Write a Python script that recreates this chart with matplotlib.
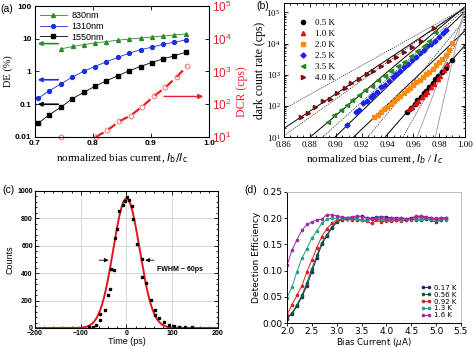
import matplotlib
matplotlib.use("Agg")
import numpy as np
import matplotlib.pyplot as plt
from matplotlib.ticker import FixedLocator, NullLocator, FuncFormatter

SERIF = "Liberation Serif"
SANS = "Liberation Sans"

# ---------------- (a) detection efficiency and dark count rate ----------------
x_830 = [0.745, 0.765, 0.784, 0.804, 0.823, 0.843, 0.862, 0.882, 0.901, 0.921, 0.940, 0.960]
de_830 = [4.9, 5.8, 6.6, 7.5, 8.2, 9.0, 9.8, 10.5, 11.3, 12.1, 13.0, 14.0]
x_1310 = [0.705, 0.725, 0.745, 0.764, 0.784, 0.803, 0.823, 0.843, 0.862, 0.882, 0.901, 0.921, 0.940, 0.960]
de_1310 = [0.15, 0.26, 0.42, 0.67, 1.02, 1.42, 1.97, 2.7, 3.6, 4.6, 5.5, 6.8, 7.8, 9.2]
x_1550 = x_1310
de_1550 = [0.026, 0.048, 0.082, 0.147, 0.23, 0.35, 0.52, 0.74, 1.05, 1.42, 1.88, 2.43, 3.0, 3.9]
x_dcr = [0.745, 0.805, 0.825, 0.845, 0.865, 0.885, 0.905, 0.925, 0.945, 0.962]
dcr = [10, 10, 16, 30, 45, 85, 175, 330, 700, 1450]

# ---------------- (b) dark count rate vs temperature ----------------
x_05 = [0.955, 0.958, 0.961, 0.963, 0.966, 0.968, 0.970, 0.972, 0.975, 0.977, 0.979, 0.982, 0.985, 0.990]
dcr_05 = [63, 83, 112, 151, 191, 251, 302, 398, 525, 708, 891, 1200, 1660, 2950]
x_10 = [0.957, 0.959, 0.962, 0.964, 0.967, 0.969, 0.971, 0.974, 0.976, 0.979, 0.981, 0.984, 0.986]
dcr_10 = [79, 95, 126, 141, 200, 240, 282, 417, 501, 708, 912, 1410, 2240]
x_20 = [0.930, 0.9325, 0.935, 0.9375, 0.940, 0.9425, 0.945, 0.9475, 0.950, 0.9525, 0.955, 0.9575,
        0.960, 0.9625, 0.965, 0.9675, 0.970, 0.9725, 0.975, 0.9775, 0.980, 0.9825, 0.985, 0.9875, 0.990]
dcr_20 = [44, 52, 63, 79, 95, 117, 145, 174, 214, 263, 316, 380, 457, 575, 692, 832, 1050, 1260,
          1580, 2000, 2510, 3310, 4370, 6310, 10200]
x_25 = [0.909, 0.916, 0.918, 0.921, 0.924, 0.927, 0.929, 0.932, 0.935, 0.938, 0.941, 0.944, 0.947,
        0.950, 0.953, 0.956, 0.959, 0.962, 0.965, 0.968, 0.971, 0.974, 0.977, 0.980, 0.983, 0.985]
dcr_25 = [24, 63, 76, 126, 145, 191, 229, 288, 398, 479, 631, 832, 1070, 1350, 1740, 2290, 2880,
          3800, 4900, 6310, 8320, 10000, 12600, 16600, 21900, 26900]
x_35 = [0.894, 0.899, 0.904, 0.909, 0.913, 0.918, 0.923, 0.928, 0.933, 0.938, 0.943, 0.948, 0.953,
        0.958, 0.963, 0.968, 0.972, 0.9765]
dcr_35 = [30, 50, 76, 105, 158, 224, 316, 427, 661, 891, 1320, 1910, 2630, 3980, 5620, 8320,
          12600, 23400]
x_40 = [0.873, 0.879, 0.884, 0.890, 0.896, 0.901, 0.907, 0.912, 0.918, 0.924, 0.929, 0.935, 0.941,
        0.947, 0.953, 0.959, 0.966, 0.976]
dcr_40 = [44, 60, 89, 148, 166, 251, 380, 525, 759, 1070, 1320, 1910, 2750, 3800, 5370, 7590,
          12000, 30900]
temps_b = ["0.5 K", "1.0 K", "2.0 K", "2.5 K", "3.5 K", "4.0 K"]

# straight-line fits on the log scale (two end points each)
fit_lines = [((0.860, 19), (1.0, 1.4e5)), ((0.8803, 10), (1.0, 1.55e5)),
             ((0.8995, 10), (1.0, 1.07e5)), ((0.9138, 10), (1.0, 2.6e4)),
             ((0.9382, 10), (1.0, 8.9e3))]
guide_lines = [((0.860, 80), (1.0, 1.4e5)), ((0.860, 11), (1.0, 1.5e5)),
               ((0.890, 10), (1.0, 1.3e5)), ((0.925, 10), (1.0, 6.0e4)),
               ((0.952, 10), (1.0, 3.2e4))]
gray_lines = [((0.963, 10), (1.0, 1.1e5)), ((0.977, 10), (1.0, 1.6e5))]

# ---------------- (c) timing jitter histogram ----------------
t_ps = [-82, -74, -66, -58, -57, -47, -40, -36, -34, -27, -25, -17, -20, -8, -3, 2, 6, 12, 14, 23,
        33, 35, 43, 53, 63, 63, 72, 83, 93, 104, 115, 128, 143]
counts = [5, 10, 20, 55, 105, 134, 240, 283, 427, 422, 654, 856, 720, 900, 930, 955, 935, 890, 795,
          610, 507, 373, 330, 202, 128, 98, 73, 45, 24, 18, 10, 7, 5]
fit_peak, fit_center, fit_fwhm = 945.0, 0.0, 68.0

# ---------------- (d) detection efficiency vs bias current ----------------
bias_ua = [2.0, 2.1, 2.2, 2.3, 2.4, 2.5, 2.6, 2.7, 2.8, 2.9, 3.0, 3.1, 3.2, 3.3, 3.4, 3.5, 3.6,
           3.7, 3.8, 3.9, 4.0, 4.1, 4.2, 4.3, 4.4, 4.5, 4.6, 4.7, 4.8, 4.9, 5.0, 5.1, 5.2]
de_017 = [0.008, 0.018, 0.032, 0.050, 0.071, 0.098, 0.124, 0.150, 0.166, 0.181, 0.192, 0.198, 0.200,
          0.201, 0.203, 0.204, 0.201, 0.200, 0.202, 0.203, 0.202, 0.201, 0.200, 0.201, 0.199, 0.201,
          0.203, 0.202, 0.200, 0.201, 0.199, 0.201, 0.200]
de_056 = [0.010, 0.019, 0.035, 0.053, 0.077, 0.104, 0.129, 0.153, 0.168, 0.183, 0.194, 0.197, 0.198,
          0.199, 0.197, 0.196, 0.196, 0.198, 0.199, 0.197, 0.196, 0.197, 0.196, 0.197, 0.196, 0.198,
          0.197, 0.196, 0.198, 0.196, 0.193, 0.196]
de_092 = [0.016, 0.035, 0.053, 0.071, 0.098, 0.120, 0.144, 0.165, 0.180, 0.190, 0.196, 0.198, 0.199,
          0.197, 0.199, 0.196, 0.194, 0.190, 0.196, 0.193, 0.195, 0.194, 0.196, 0.195, 0.197, 0.199,
          0.204, 0.204, 0.202, 0.199, 0.200, 0.199, 0.200]
de_13 = [0.048, 0.069, 0.098, 0.124, 0.142, 0.162, 0.176, 0.190, 0.198, 0.200, 0.200, 0.201, 0.199,
         0.200, 0.198, 0.197, 0.196, 0.198, 0.200, 0.199, 0.197, 0.198, 0.199, 0.196, 0.198, 0.197,
         0.199, 0.198, 0.200, 0.199, 0.196, 0.198, 0.197]
de_16 = [0.110, 0.139, 0.159, 0.177, 0.188, 0.193, 0.197, 0.198, 0.207, 0.206, 0.205, 0.203, 0.201,
         0.203, 0.204, 0.203, 0.201, 0.199, 0.200, 0.202, 0.198, 0.201, 0.199, 0.200, 0.199, 0.198,
         0.202, 0.204, 0.203, 0.200, 0.199, 0.200, 0.200]
temps_d = ["0.17 K", "0.56 K", "0.92 K", "1.3 K", "1.6 K"]

fig = plt.figure(figsize=(4.74, 3.47), dpi=100)

# ===== (a) =====
ax = fig.add_axes([0.0738, 0.6052, 0.367, 0.3775])
ax.set_yscale("log")
ax.set_xlim(0.7, 1.0)
ax.set_ylim(0.01, 100)
ax.plot(x_830, de_830, color="#2a8a2a", marker="^", ms=2.8, lw=0.6, label="830nm")
ax.plot(x_1310, de_1310, color="#1c2fe0", marker="o", ms=2.8, lw=0.6, label="1310nm")
ax.plot(x_1550, de_1550, color="black", marker="s", ms=2.4, lw=0.6, label="1550nm")
for yv, c in [(7.1, "#2a8a2a"), (0.56, "#1c2fe0"), (0.1, "black")]:
    ax.annotate("", xy=(0.7, yv), xytext=(0.745, yv),
                arrowprops=dict(arrowstyle="-|>", color=c, lw=1.2, mutation_scale=6))
ax.set_xticks([0.7, 0.8, 0.9, 1.0])
ax.set_xticklabels(["0.7", "0.8", "0.9", "1.0"])
ax.set_yticks([0.01, 0.1, 1, 10, 100])
ax.set_yticklabels(["0.01", "0.1", "1", "10", "100"])
ax.yaxis.set_minor_locator(NullLocator())
ax.tick_params(direction="in", top=True, labelsize=6, length=3, width=0.6, pad=2.5)
for lab in ax.get_xticklabels() + ax.get_yticklabels():
    lab.set_fontfamily(SANS)
    lab.set_fontweight("bold")
ax.set_ylabel("DE (%)", family=SERIF, fontsize=7.5, labelpad=1)
ax.set_xlabel("normalized bias current, $I_\\mathrm{b}/I_\\mathrm{c}$", family=SERIF, fontsize=8, labelpad=3)
ax.legend(loc="upper left", frameon=False, prop={"family": SANS, "size": 6.5},
          handlelength=3.0, borderaxespad=0.15, labelspacing=0.2, handletextpad=0.5,
          bbox_to_anchor=(0.0, 1.0))
for s in ax.spines.values():
    s.set_linewidth(0.7)

axr = ax.twinx()
axr.set_yscale("log")
axr.set_ylim(10, 1e5)
axr.plot(x_dcr[1:], dcr[1:], color="#e8202a", ls=(0, (4, 2.5)), lw=1.6)
axr.plot(x_dcr, dcr, ls="none", marker="o", ms=3.5, mfc="none", mec="#f06060", mew=0.6, clip_on=False)
axr.annotate("", xy=(0.995, 173), xytext=(0.918, 173),
             arrowprops=dict(arrowstyle="-|>", color="#e8202a", lw=1.0, mutation_scale=7))
axr.yaxis.set_minor_locator(NullLocator())
axr.tick_params(direction="in", labelsize=8.5, labelcolor="#e8202a", length=3, width=0.6, pad=2)
for lab in axr.get_yticklabels():
    lab.set_fontfamily(SANS)
fig.text(0.511, 0.736, "DCR (cps)", rotation=90, color="#e8202a", family=SERIF, fontsize=8.5,
         ha="center", va="center")

# ===== (b) =====
bx = fig.add_axes([0.599, 0.605, 0.382, 0.386])
bx.set_yscale("log")
bx.set_xlim(0.86, 1.0)
bx.set_ylim(10, 2e5)
for (p0, p1) in fit_lines:
    bx.plot([p0[0], p1[0]], [p0[1], p1[1]], color="black", lw=0.7)
for (p0, p1) in guide_lines:
    bx.plot([p0[0], p1[0]], [p0[1], p1[1]], color="#444444", lw=0.6, ls=(0, (1.5, 1.2)))
for (p0, p1) in gray_lines:
    bx.plot([p0[0], p1[0]], [p0[1], p1[1]], color="#999999", lw=0.6)
series_b = [(x_05, dcr_05, "o", "black"), (x_10, dcr_10, "^", "#e01010"),
            (x_20, dcr_20, "s", "#ff8c10"), (x_25, dcr_25, "D", "#1a22f0"),
            (x_35, dcr_35, "<", "#1f8a1f"), (x_40, dcr_40, ">", "#7a1010")]
for (xs, ys, m, c), lab in zip(series_b, temps_b):
    bx.plot(xs, ys, ls="none", marker=m, ms=3.0 if m != "D" else 2.6, color=c, mec=c, label=lab)
bx.set_xticks([0.86, 0.88, 0.90, 0.92, 0.94, 0.96, 0.98, 1.00])
bx.set_xticklabels(["0.86", "0.88", "0.90", "0.92", "0.94", "0.96", "0.98", "1.00"])
bx.xaxis.set_minor_locator(FixedLocator(np.arange(0.86, 1.0001, 0.005)))
bx.set_yticks([10, 100, 1e3, 1e4, 1e5])
bx.tick_params(which="both", direction="in", top=True, right=True, labelsize=6.5, width=0.6)
bx.tick_params(which="major", length=3, pad=2.5)
bx.tick_params(which="minor", length=1.5)
for lab in bx.get_xticklabels() + bx.get_yticklabels():
    lab.set_fontfamily(SERIF)
bx.set_ylabel("dark count rate (cps)", family=SERIF, fontsize=8.5, labelpad=0)
bx.set_xlabel("normalized bias current, $I_b$ / $I_c$", family=SERIF, fontsize=8, labelpad=3)
bx.legend(loc="upper left", frameon=False, prop={"family": SERIF, "size": 6.5},
          handlelength=1.0, handletextpad=0.8, labelspacing=0.3, borderaxespad=0.0,
          bbox_to_anchor=(0.06, 0.91))
for s in bx.spines.values():
    s.set_linewidth(0.7)

# ===== (c) =====
cx = fig.add_axes([0.0738, 0.0548, 0.386, 0.3948])
cx.set_xlim(-200, 200)
cx.set_ylim(0, 1000)
cx.grid(True, color="#c8c8c8", lw=0.5)
cx.set_axisbelow(True)
tt = np.linspace(-200, 200, 801)
sig = fit_fwhm / (2 * np.sqrt(2 * np.log(2)))
cx.plot(tt, fit_peak * np.exp(-0.5 * ((tt - fit_center) / sig) ** 2), color="#e8101a", lw=1.4)
cx.plot(t_ps, counts, ls="none", marker="s", ms=1.6, color="black")
cx.annotate("", xy=(-33, 495), xytext=(-66, 495),
            arrowprops=dict(arrowstyle="-|>", color="black", lw=0.6, mutation_scale=6))
cx.annotate("", xy=(35, 495), xytext=(66, 495),
            arrowprops=dict(arrowstyle="-|>", color="black", lw=0.6, mutation_scale=6))
cx.text(66, 430, "FWHM ~ 60ps", family=SANS, fontsize=5, fontweight="bold", va="center")
cx.set_xticks([-200, -100, 0, 100, 200])
cx.set_yticks([0, 200, 400, 600, 800, 1000])
cx.xaxis.set_minor_locator(FixedLocator(np.arange(-200, 201, 20)))
cx.yaxis.set_minor_locator(FixedLocator(np.arange(0, 1001, 40)))
cx.tick_params(which="both", direction="in", top=True, right=True, labelsize=5, width=0.6)
cx.tick_params(which="major", length=3, pad=1.5)
cx.tick_params(which="minor", length=1.5)
for lab in cx.get_xticklabels() + cx.get_yticklabels():
    lab.set_fontfamily(SANS)
    lab.set_fontweight("bold")
cx.set_xlabel("Time (ps)", family=SANS, fontsize=6.5, labelpad=0)
cx.set_ylabel("Counts", family=SANS, fontsize=6.5, labelpad=2)

# ===== (d) =====
dx = fig.add_axes([0.6055, 0.0690, 0.367, 0.3777])
dx.set_xlim(2.0, 5.5)
dx.set_ylim(0.0, 0.25)
colors_d = ["#1b2a6b", "#0f5a3a", "#e02020", "#2aa080", "#a02aa8"]
for ys, c, lab in zip([de_017, de_056, de_092, de_13, de_16], colors_d, temps_d):
    dx.plot(bias_ua[:len(ys)], ys, color=c, marker="o", ms=1.6, lw=0.7, label=lab)
dx.set_xticks([2.0, 2.5, 3.0, 3.5, 4.0, 4.5, 5.0, 5.5])
dx.set_yticks([0.0, 0.05, 0.10, 0.15, 0.20, 0.25])
dx.yaxis.set_major_formatter(FuncFormatter(lambda v, p: f"{v:.2f}"))
dx.xaxis.set_major_formatter(FuncFormatter(lambda v, p: f"{v:.1f}"))
dx.tick_params(labelsize=6.5, length=2.5, width=0.6, pad=0.5)
dx.set_xlabel("Bias Current ($\\mu$A)", fontsize=6.2, labelpad=-0.5)
dx.set_ylabel("Detection Efficiency", fontsize=6.5, labelpad=1.5)
for side in ["top", "right"]:
    dx.spines[side].set_color("#bbbbbb")
for s in dx.spines.values():
    s.set_linewidth(0.7)
dx.legend(loc="lower right", frameon=False, fontsize=5, handlelength=1.4, numpoints=2,
          labelspacing=0.12, handletextpad=0.4, borderaxespad=0.3)

# panel letters
fig.text(0.001, 0.975, "(a)", family=SANS, fontsize=7.5, va="center")
fig.text(0.541, 0.984, "(b)", family=SANS, fontsize=7.5, va="center")
fig.text(0.006, 0.452, "(c)", family=SANS, fontsize=7.5, va="center")
fig.text(0.515, 0.452, "(d)", family=SANS, fontsize=7.5, va="center")

fig.savefig("out.png", dpi=100)
